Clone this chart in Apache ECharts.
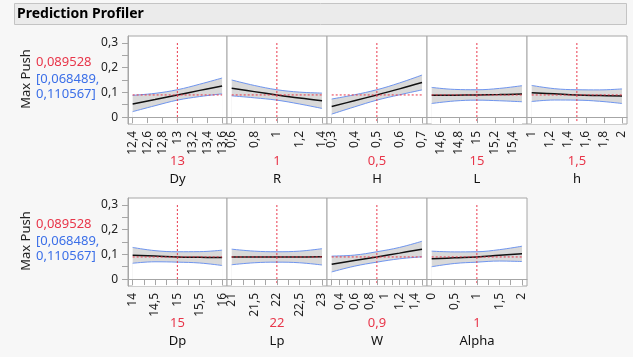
<!DOCTYPE html>
<html>
<head>
<meta charset="utf-8">
<script src="https://cdn.jsdelivr.net/npm/echarts@6/dist/echarts.min.js"></script>
<style>
html,body{margin:0;padding:0;background:#f7f7f7;}
#c{width:633px;height:357px;}
</style>
</head>
<body>
<div id="c"></div>
<script>
// ---- data ----
const factors = ['Dy','R','H','L','h','Dp','Lp','W','Alpha'];
const current = [13, 1, 0.5, 15, 1.5, 15, 22, 0.9, 1];
const predValue = 0.089528;
const ciLow = 0.068489;
const ciHigh = 0.110567;
const responseName = 'Max Push';

const DyX = [12.4, 12.7, 13.0, 13.3, 13.6];
const DyPred = [0.053, 0.071, 0.0895, 0.108, 0.126];
const DyLo = [0.022, 0.046, 0.0685, 0.083, 0.094];
const DyHi = [0.088, 0.096, 0.1106, 0.133, 0.158];

const RX = [0.6, 0.8, 1.0, 1.2, 1.4];
const RPred = [0.117, 0.103, 0.0895, 0.077, 0.066];
const RLo = [0.086, 0.078, 0.0685, 0.053, 0.035];
const RHi = [0.150, 0.128, 0.1106, 0.101, 0.097];

const HX = [0.3, 0.4, 0.5, 0.6, 0.7];
const HPred = [0.043, 0.066, 0.0895, 0.114, 0.140];
const HLo = [0.012, 0.041, 0.0685, 0.090, 0.110];
const HHi = [0.073, 0.090, 0.1106, 0.138, 0.170];

const LX = [14.5, 14.75, 15, 15.25, 15.5];
const LPred = [0.088, 0.0885, 0.0895, 0.091, 0.093];
const LLo = [0.055, 0.065, 0.0685, 0.066, 0.062];
const LHi = [0.120, 0.112, 0.1106, 0.116, 0.127];

const hX = [1, 1.25, 1.5, 1.75, 2];
const hPred = [0.0985, 0.094, 0.0895, 0.087, 0.085];
const hLo = [0.063, 0.069, 0.0685, 0.064, 0.055];
const hHi = [0.128, 0.115, 0.1106, 0.110, 0.114];

const DpX = [14, 14.5, 15, 15.5, 16];
const DpPred = [0.096, 0.093, 0.0895, 0.088, 0.087];
const DpLo = [0.064, 0.070, 0.0685, 0.065, 0.055];
const DpHi = [0.128, 0.115, 0.1106, 0.111, 0.117];

const LpX = [21, 21.5, 22, 22.5, 23];
const LpPred = [0.0895, 0.0895, 0.0895, 0.0897, 0.090];
const LpLo = [0.058, 0.066, 0.0685, 0.066, 0.057];
const LpHi = [0.121, 0.113, 0.1106, 0.113, 0.123];

const WX = [0.3, 0.6, 0.9, 1.2, 1.5];
const WPred = [0.060, 0.075, 0.0895, 0.105, 0.121];
const WLo = [0.029, 0.052, 0.0685, 0.082, 0.090];
const WHi = [0.093, 0.097, 0.1106, 0.128, 0.153];

const AlphaX = [0, 0.5, 1, 1.5, 2];
const AlphaPred = [0.082, 0.086, 0.0895, 0.096, 0.102];
const AlphaLo = [0.050, 0.063, 0.0685, 0.073, 0.071];
const AlphaHi = [0.113, 0.110, 0.1106, 0.119, 0.133];

// tick labels and extra (unlabelled) tick positions
const DyTicks = [12.4, 12.6, 12.8, 13, 13.2, 13.4, 13.6];
const DyMinor = [];
const RTicks = [0.6, 0.8, 1, 1.2, 1.4];
const RMinor = [0.7, 0.9, 1.1, 1.3];
const HTicks = [0.3, 0.4, 0.5, 0.6, 0.7];
const HMinor = [0.35, 0.45, 0.55, 0.65];
const LTicks = [14.6, 14.8, 15, 15.2, 15.4];
const LMinor = [];
const hTicks = [1, 1.2, 1.4, 1.6, 1.8, 2];
const hMinor = [];
const DpTicks = [14, 14.5, 15, 15.5, 16];
const DpMinor = [14.25, 14.75, 15.25, 15.75];
const LpTicks = [21, 21.5, 22, 22.5, 23];
const LpMinor = [21.25, 21.75, 22.25, 22.75];
const WTicks = [0.4, 0.6, 0.8, 1, 1.2, 1.4];
const WMinor = [0.3, 0.5, 0.7, 0.9, 1.1, 1.3, 1.5];
const AlphaTicks = [0, 0.5, 1, 1.5, 2];
const AlphaMinor = [0.25, 0.75, 1.25, 1.75];

const yTicks = [0, 0.1, 0.2, 0.3];
const yMinor = [0.05, 0.15, 0.25];

// ---- assemble ----
const X = [DyX, RX, HX, LX, hX, DpX, LpX, WX, AlphaX];
const P = [DyPred, RPred, HPred, LPred, hPred, DpPred, LpPred, WPred, AlphaPred];
const LO = [DyLo, RLo, HLo, LLo, hLo, DpLo, LpLo, WLo, AlphaLo];
const HI = [DyHi, RHi, HHi, LHi, hHi, DpHi, LpHi, WHi, AlphaHi];
const TK = [DyTicks, RTicks, HTicks, LTicks, hTicks, DpTicks, LpTicks, WTicks, AlphaTicks];
const MN = [DyMinor, RMinor, HMinor, LMinor, hMinor, DpMinor, LpMinor, WMinor, AlphaMinor];

const FONT = 'Noto Sans';
const RED = '#e8364a';
const BLUE = '#6f95ee';
const BORDER = '#a6a6a6';
const fmt = v => String(Math.round(v * 1e6) / 1e6).replace('.', ',');

const rowTop = [36, 198];
const colLeft = [128, 227, 327, 427, 527];
const panelH = 88;
const yMin = -0.028, yMax = 0.328;

const grids = [], xAxes = [], yAxes = [], series = [], graphics = [];
const base = {type: 'line', symbol: 'none', silent: true, animation: false};

factors.forEach((name, i) => {
  const row = i < 5 ? 0 : 1;
  const col = i < 5 ? i : i - 5;
  const left = colLeft[col];
  const width = (col === 0 ? 99 : 100);
  const top = rowTop[row];
  grids.push({left, top, width, height: panelH, show: true, backgroundColor: '#fff',
    borderColor: BORDER, borderWidth: 1, containLabel: false});
  const xs = X[i];
  const span = xs[xs.length - 1] - xs[0];
  xAxes.push({
    type: 'value', gridIndex: i, z: 10,
    min: xs[0] - span * 0.052, max: xs[xs.length - 1] + span * 0.055,
    splitLine: {show: false},
    axisLine: {show: true, lineStyle: {color: BORDER}},
    axisTick: {show: true, length: 6, inside: false, lineStyle: {color: BORDER},
      customValues: TK[i].concat(MN[i])},
    axisLabel: {show: true, rotate: 90, margin: 7, color: '#222', fontFamily: FONT, fontSize: 12,
      customValues: TK[i], formatter: v => fmt(v)}
  });
  const showY = col === 0;
  yAxes.push({
    type: 'value', gridIndex: i, min: yMin, max: yMax, z: 10,
    splitLine: {show: false},
    axisLine: {show: showY, lineStyle: {color: BORDER}},
    axisTick: {show: showY, length: 6, lineStyle: {color: BORDER}, customValues: yTicks.concat(yMinor)},
    axisLabel: {show: showY, margin: 10, color: '#222', fontFamily: FONT, fontSize: 12,
      customValues: yTicks, formatter: v => fmt(v)}
  });
  const ax = {xAxisIndex: i, yAxisIndex: i};
  // upper bound: gray fill down to the bottom of the panel
  series.push(Object.assign({}, base, ax, {
    z: 2, smooth: 0.4,
    data: xs.map((x, k) => [x, HI[i][k]]),
    lineStyle: {color: BLUE, width: 1},
    areaStyle: {color: '#d9d9d9', opacity: 1, origin: 'start'}
  }));
  // lower bound: white fill below it, which leaves the gray band between the bounds
  series.push(Object.assign({}, base, ax, {
    z: 3, smooth: 0.4,
    data: xs.map((x, k) => [x, LO[i][k]]),
    lineStyle: {color: BLUE, width: 1},
    areaStyle: {color: '#ffffff', opacity: 1, origin: 'start'}
  }));
  // reference lines at current setting and current prediction
  series.push(Object.assign({}, base, ax, {
    z: 5,
    data: [[current[i], -0.016], [current[i], 0.3]],
    lineStyle: {color: RED, width: 1, type: [2, 2]}
  }));
  series.push(Object.assign({}, base, ax, {
    z: 5,
    data: [[xs[0], predValue], [xs[xs.length - 1], predValue]],
    lineStyle: {color: RED, width: 1, type: [2, 2]}
  }));
  // prediction trace
  series.push(Object.assign({}, base, ax, {
    z: 4, smooth: 0.4,
    data: xs.map((x, k) => [x, P[i][k]]),
    lineStyle: {color: '#111', width: 1.5}
  }));
  const cx = left + width / 2;
  graphics.push({type: 'text', x: cx, y: top + panelH + 37.5, style: {
    text: fmt(current[i]), fill: RED, font: '13px "' + FONT + '"', align: 'center', verticalAlign: 'middle'}});
  graphics.push({type: 'text', x: cx, y: top + panelH + 55, style: {
    text: name, fill: '#111', font: '13px "' + FONT + '"', align: 'center', verticalAlign: 'middle'}});
});

// title bar
graphics.push({type: 'rect', shape: {x: 14.5, y: 3.5, width: 612, height: 21},
  style: {fill: '#ebebeb', stroke: '#c4c4c4', lineWidth: 1}});
graphics.push({type: 'text', x: 17, y: 14, style: {text: 'Prediction Profiler', fill: '#000',
  font: 'bold 14px "' + FONT + '"', verticalAlign: 'middle'}});

// response labels
[0, 1].forEach(r => {
  const mid = rowTop[r] + 42;
  graphics.push({type: 'text', x: 26, y: mid + 1, rotation: Math.PI / 2, style: {
    text: responseName, fill: '#222', font: '13px "' + FONT + '"', align: 'center', verticalAlign: 'middle'}});
  graphics.push({type: 'text', x: 36, y: mid - 16, style: {
    text: fmt(predValue), fill: RED, font: '13px "' + FONT + '"', verticalAlign: 'middle'}});
  graphics.push({type: 'text', x: 36, y: mid + 1, style: {
    text: '[' + fmt(ciLow) + ',', fill: '#3b6fe8', font: '13px "' + FONT + '"', verticalAlign: 'middle'}});
  graphics.push({type: 'text', x: 36, y: mid + 16, style: {
    text: fmt(ciHigh) + ']', fill: '#3b6fe8', font: '13px "' + FONT + '"', verticalAlign: 'middle'}});
});

const chart = echarts.init(document.getElementById('c'), null, {renderer: 'canvas'});
chart.setOption({
  backgroundColor: '#f7f7f7',
  animation: false,
  grid: grids, xAxis: xAxes, yAxis: yAxes, series,
  graphic: graphics
});
</script>
</body>
</html>
